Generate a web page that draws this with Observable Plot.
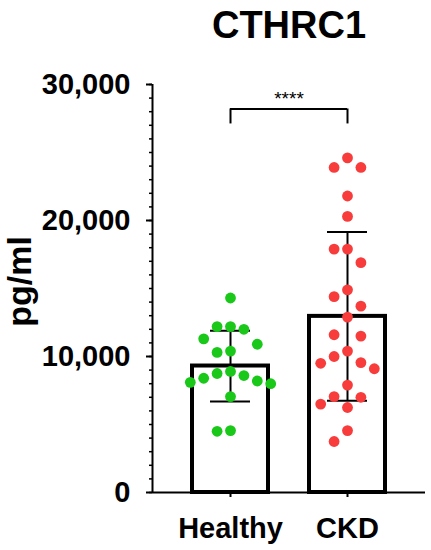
<!DOCTYPE html>
<html><head><meta charset="utf-8">
<script src="https://cdn.jsdelivr.net/npm/d3@7"></script>
<script src="https://cdn.jsdelivr.net/npm/@observablehq/plot@0.6"></script>
<style>body{margin:0;background:#fff} svg{display:block}</style>
</head><body><div id="chart"></div>
<script>
const groups = ["Healthy", "CKD"];
const healthyValues = [14300, 12200, 12200, 12000, 11300, 10900, 10400, 10300, 8900, 8750, 8600, 8400, 8200, 8100, 8000, 7050, 4550, 4500];
const ckdValues = [24600, 23900, 23900, 21800, 20300, 17900, 17900, 16900, 14900, 14400, 13700, 12900, 11600, 11500, 10400, 10000, 9550, 9500, 9100, 7900, 7050, 7000, 6500, 6250, 4550, 3750];
const groupMeans = [9300, 12950];
const groupSDs = [2600, 6200];
const yTicks = [0, 10000, 20000, 30000];
const yMax = 30000;
const minorStep = 1000;
const sigLabel = "****";
const sigY = 28200;
const sigDrop = 1100;
const titleText = "CTHRC1";
const yLabelText = "pg/ml";
const colors = ["#19c819", "#f83c3c"];

const W = 431, H = 550, ml = 152, mr = 6, mt = 84, mb = 58;
const xDomain = [-2/3, 5/3];
const pxPerX = (W - ml - mr) / (xDomain[1] - xDomain[0]);
const pxPerY = (H - mt - mb) / yMax;
const dotR = 5.4, colStep = 6.7, minDx = 11.5, minDy = 20;
const barHalf = 38 / pxPerX, capHalf = 20 / pxPerX;

// simple swarm: nearest free column to the centre
function swarm(values, gi) {
  const placed = [];
  return values.map(v => {
    const py = v * pxPerY;
    for (let k = 0; k < 200; k++) {
      const off = k === 0 ? 0 : (k % 2 ? -1 : 1) * Math.ceil(k / 2) * colStep;
      if (placed.every(p => Math.abs(p.ox - off) >= minDx || Math.abs(p.py - py) >= minDy)) {
        placed.push({ox: off, py});
        return {gi, value: v, x: gi + off / pxPerX};
      }
    }
  });
}
const points = [...swarm(healthyValues, 0), ...swarm(ckdValues, 1)];
const bars = groups.map((g, i) => ({i, mean: groupMeans[i], sd: groupSDs[i]}));
const minorTicks = d3.range(0, yMax + 1, minorStep);

const chart = Plot.plot({
  width: W, height: H, marginLeft: ml, marginRight: mr, marginTop: mt, marginBottom: mb,
  style: {fontFamily: "'Liberation Sans', Arial, sans-serif", background: "#fff", color: "black"},
  x: {domain: xDomain, axis: null},
  y: {domain: [0, yMax], axis: null},
  marks: [
    Plot.rectY(bars, {x1: d => d.i - barHalf, x2: d => d.i + barHalf, y1: () => 0, y2: "mean", fill: "white", stroke: "black", strokeWidth: 4}),
    Plot.ruleX(bars, {x: "i", y1: d => d.mean - d.sd, y2: d => d.mean + d.sd, stroke: "black", strokeWidth: 2}),
    Plot.ruleY(bars, {y: d => d.mean + d.sd, x1: d => d.i - capHalf, x2: d => d.i + capHalf, stroke: "black", strokeWidth: 2}),
    Plot.ruleY(bars, {y: d => d.mean - d.sd, x1: d => d.i - capHalf, x2: d => d.i + capHalf, stroke: "black", strokeWidth: 2}),
    Plot.dot(points, {x: "x", y: "value", r: dotR, fill: d => colors[d.gi], stroke: null}),
    Plot.ruleY([0], {stroke: "black", strokeWidth: 2}),
    Plot.ruleX([xDomain[0]], {y1: () => 0, y2: () => yMax, stroke: "black", strokeWidth: 2}),
    Plot.axisY({ticks: minorTicks, tickSize: 3, tickFormat: () => "", label: null, stroke: "black", strokeWidth: 1.5, strokeOpacity: 1}),
    Plot.axisY({ticks: yTicks, tickSize: 6, tickPadding: 16, tickFormat: d3.format(","), fontSize: 29, fontWeight: "bold", label: null, stroke: "black", strokeWidth: 2, strokeOpacity: 1}),
    Plot.axisX({ticks: [0, 1], tickFormat: i => groups[i], tickSize: 5, tickPadding: 20, fontSize: 29, fontWeight: "bold", label: null, stroke: "black", strokeWidth: 2, strokeOpacity: 1}),
    Plot.ruleY([sigY], {y: d => d, x1: () => 0, x2: () => 1, stroke: "black", strokeWidth: 2}),
    Plot.ruleX([0, 1], {x: d => d, y1: () => sigY - sigDrop, y2: () => sigY, stroke: "black", strokeWidth: 2}),
    Plot.text([sigLabel], {x: () => 0.5, y: () => sigY, text: d => d, fontSize: 19, lineAnchor: "bottom", dy: -4}),
    Plot.text([titleText], {frameAnchor: "top", text: d => d, dy: -47, fontSize: 38, fontWeight: "bold", lineAnchor: "bottom"}),
    Plot.text([yLabelText], {frameAnchor: "left", textAnchor: "middle", text: d => d, rotate: -90, dx: -122, dy: -7, fontSize: 34, fontWeight: "bold", lineAnchor: "bottom"})
  ]
});
document.getElementById("chart").appendChild(chart);
</script>
</body></html>
